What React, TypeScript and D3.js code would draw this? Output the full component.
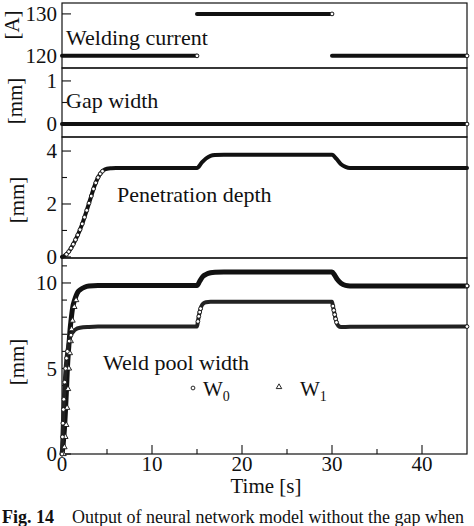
import React, { useRef, useEffect } from 'react';
import * as d3 from 'd3';

const FONT = '"Liberation Serif", "DejaVu Serif", serif';
const INK = '#111';

// Time axis
const X_DOMAIN = [0, 45];
const X_MAJOR = [0, 10, 20, 30, 40];
const X_MINOR = [5, 15, 25, 35];

// Panels (top to bottom)
const PANEL_TITLES = ['Welding current', 'Gap width', 'Penetration depth', 'Weld pool width'];
const PANEL_UNITS = ['[A]', '[mm]', '[mm]', '[mm]'];
const PANEL_DOMAINS = [[117.1, 132.6], [-0.3, 1.3], [-0.04, 4.53], [0, 11.46]];
const PANEL_MAJOR = [[120, 130], [0, 1], [0, 2, 4], [0, 5, 10]];
const PANEL_MINOR = [[], [0.5], [1, 3], [1, 2, 3, 4, 6, 7, 8, 9, 11]];

// Welding current [A], piecewise constant
const CURRENT_T = [[0, 15], [15, 30], [30, 45]];
const CURRENT_V = [[120, 120], [130, 130], [120, 120]];

// Gap width [mm]
const GAP_T = [0, 45];
const GAP_V = [0, 0];

// Penetration depth [mm]
const PEN_T = [0, 0.25, 0.5, 0.75, 1, 1.25, 1.5, 1.75, 2, 2.25, 2.5, 2.75, 3, 3.25, 3.5, 3.75, 4, 4.25, 4.5, 4.75, 5, 5.5, 6,
  15, 15.5, 16, 16.5, 17, 18, 30, 30.5, 31, 31.5, 32, 33, 45];
const PEN_V = [0, 0.04, 0.1, 0.2, 0.33, 0.48, 0.65, 0.83, 1.03, 1.25, 1.5, 1.76, 2.03, 2.3, 2.57, 2.8, 3.0, 3.14, 3.24, 3.3, 3.33, 3.35, 3.36,
  3.36, 3.55, 3.72, 3.82, 3.85, 3.86, 3.86, 3.7, 3.5, 3.4, 3.36, 3.36, 3.36];

// Weld pool width W0 [mm]
const W0_T = [0, 0.05, 0.1, 0.15, 0.2, 0.3, 0.4, 0.5, 0.6, 0.8, 1.0, 1.25, 1.5, 2, 3, 4,
  15, 15.1, 15.2, 15.3, 15.4, 15.5, 15.7, 16, 16.5, 17,
  30, 30.1, 30.2, 30.3, 30.4, 30.5, 30.7, 31, 32, 45];
const W0_V = [0, 1.0, 1.8, 2.6, 3.2, 4.2, 5.0, 5.6, 6.0, 6.6, 6.95, 7.15, 7.28, 7.38, 7.43, 7.45,
  7.45, 7.75, 8.05, 8.3, 8.5, 8.65, 8.8, 8.87, 8.9, 8.9,
  8.9, 8.65, 8.4, 8.15, 7.9, 7.7, 7.5, 7.42, 7.44, 7.45];

// Weld pool width W1 [mm]
const W1_T = [0, 0.1, 0.2, 0.3, 0.4, 0.5, 0.6, 0.7, 0.8, 0.9, 1.0, 1.2, 1.4, 1.6, 1.8, 2, 2.5, 3, 4,
  15, 15.3, 15.6, 16, 16.5, 17, 18, 30, 30.3, 30.6, 31, 31.5, 32, 45];
const W1_V = [0, 0.4, 1.0, 1.7, 2.7, 3.8, 5.0, 5.9, 6.6, 7.3, 7.8, 8.6, 9.0, 9.3, 9.5, 9.6, 9.75, 9.82, 9.85,
  9.85, 10.1, 10.35, 10.5, 10.6, 10.63, 10.64, 10.64, 10.45, 10.2, 9.98, 9.86, 9.83, 9.83];

// Layout
const W = 474, H = 526;
const PLOT_LEFT = 62, PLOT_RIGHT = 467;
const PANEL_EDGES = [3, 68, 137, 258, 454];
const UNIT_POS = [[12, 25], [15, 101], [17, 200], [17, 362]];
const TITLE_POS = [[66, 45], [66, 108], [117, 202], [103, 370]];

export default function App() {
  const svgRef = useRef<SVGSVGElement>(null);

  useEffect(() => {
    const svg = d3.select(svgRef.current);
    svg.selectAll('*').remove();

    const x = d3.scaleLinear().domain(X_DOMAIN).range([PLOT_LEFT, PLOT_RIGHT]);
    const ys = PANEL_DOMAINS.map((d, i) =>
      d3.scaleLinear().domain(d).range([PANEL_EDGES[i + 1], PANEL_EDGES[i]]));

    const txt = (sel: any, size: number) =>
      sel.attr('font-family', FONT).attr('font-size', size).attr('fill', INK);

    // frames, ticks, labels
    ys.forEach((y, i) => {
      const top = PANEL_EDGES[i], bottom = PANEL_EDGES[i + 1];
      svg.append('rect')
        .attr('x', PLOT_LEFT).attr('y', top)
        .attr('width', PLOT_RIGHT - PLOT_LEFT).attr('height', bottom - top)
        .attr('fill', 'none').attr('stroke', INK).attr('stroke-width', 1.2);

      PANEL_MAJOR[i].forEach(v => {
        svg.append('line')
          .attr('x1', PLOT_LEFT).attr('x2', PLOT_LEFT + 9)
          .attr('y1', y(v)).attr('y2', y(v))
          .attr('stroke', INK).attr('stroke-width', 1.1);
        txt(svg.append('text'), 21)
          .attr('x', 57).attr('y', y(v)).attr('dy', '0.35em')
          .attr('text-anchor', 'end').text(String(v));
      });
      PANEL_MINOR[i].forEach(v => {
        svg.append('line')
          .attr('x1', PLOT_LEFT).attr('x2', PLOT_LEFT + 5)
          .attr('y1', y(v)).attr('y2', y(v))
          .attr('stroke', INK).attr('stroke-width', 1.1);
      });

      const [ux, uy] = UNIT_POS[i];
      txt(svg.append('text'), 21)
        .attr('transform', `translate(${ux},${uy}) rotate(-90)`)
        .attr('text-anchor', 'middle').attr('dy', '0.35em')
        .text(PANEL_UNITS[i]);

      const [tx, ty] = TITLE_POS[i];
      txt(svg.append('text'), 22).attr('x', tx).attr('y', ty).text(PANEL_TITLES[i]);
    });

    // x axis on the bottom panel
    const axisY = PANEL_EDGES[4];
    X_MAJOR.forEach(t => {
      svg.append('line').attr('x1', x(t)).attr('x2', x(t))
        .attr('y1', axisY).attr('y2', axisY - 9)
        .attr('stroke', INK).attr('stroke-width', 1.1);
      txt(svg.append('text'), 21).attr('x', x(t)).attr('y', 471)
        .attr('text-anchor', 'middle').text(String(t));
    });
    X_MINOR.forEach(t => {
      svg.append('line').attr('x1', x(t)).attr('x2', x(t))
        .attr('y1', axisY).attr('y2', axisY - 5)
        .attr('stroke', INK).attr('stroke-width', 1.1);
    });
    txt(svg.append('text'), 21).attr('x', 266).attr('y', 493)
      .attr('text-anchor', 'middle').text('Time [s]');

    // series helpers
    const drawLine = (y: any, T: number[], V: number[], width: number, color = INK) => {
      const pts = T.map((t, k) => [t, V[k]] as [number, number]);
      const line = d3.line<[number, number]>()
        .x(d => x(d[0])).y(d => y(d[1]))
        .curve(d3.curveMonotoneX);
      svg.append('path').datum(pts)
        .attr('d', line).attr('fill', 'none')
        .attr('stroke', color).attr('stroke-width', width)
        .attr('stroke-linecap', 'round').attr('stroke-linejoin', 'round');
    };
    const circle = (cx: number, cy: number) => {
      svg.append('circle').attr('cx', cx).attr('cy', cy).attr('r', 1.9)
        .attr('fill', '#fff').attr('stroke', INK).attr('stroke-width', 0.9);
    };
    const triangle = (cx: number, cy: number) => {
      svg.append('path')
        .attr('d', d3.symbol(d3.symbolTriangle, 13)())
        .attr('transform', `translate(${cx},${cy})`)
        .attr('fill', '#fff').attr('stroke', INK).attr('stroke-width', 0.9);
    };
    // markers where the curve is steep enough that they separate
    const steep = (T: number[], V: number[], k: number, minSlope: number) => {
      const a = Math.max(0, k - 1), b = Math.min(T.length - 1, k + 1);
      return Math.abs((V[b] - V[a]) / (T[b] - T[a])) > minSlope;
    };

    // Welding current
    CURRENT_T.forEach((T, i) => {
      drawLine(ys[0], T, CURRENT_V[i], 4);
      circle(x(T[1]), ys[0](CURRENT_V[i][1]));
    });

    // Gap width
    drawLine(ys[1], GAP_T, GAP_V, 4);
    circle(x(GAP_T[GAP_T.length - 1]), ys[1](GAP_V[GAP_V.length - 1]));

    // Penetration depth
    drawLine(ys[2], PEN_T, PEN_V, 4);
    PEN_T.forEach((t, k) => {
      if (t < 6 && steep(PEN_T, PEN_V, k, 0.2)) circle(x(t), ys[2](PEN_V[k]));
    });

    // Weld pool width
    drawLine(ys[3], W1_T, W1_V, 5);
    drawLine(ys[3], W0_T, W0_V, 4, '#222');
    W1_T.forEach((t, k) => {
      if (t < 3 && steep(W1_T, W1_V, k, 1.5)) triangle(x(t) + 1.5, ys[3](W1_V[k]));
    });
    W0_T.forEach((t, k) => {
      if (steep(W0_T, W0_V, k, 1.2)) circle(x(t), ys[3](W0_V[k]));
    });
    circle(x(W0_T[W0_T.length - 1]), ys[3](W0_V[W0_V.length - 1]));
    circle(x(W1_T[W1_T.length - 1]), ys[3](W1_V[W1_V.length - 1]));

    // legend
    circle(193, 388);
    const l0 = txt(svg.append('text'), 21).attr('x', 203).attr('y', 396);
    l0.append('tspan').text('W');
    l0.append('tspan').attr('font-size', 14).attr('dy', 5).text('0');
    triangle(279, 387);
    const l1 = txt(svg.append('text'), 21).attr('x', 300).attr('y', 396);
    l1.append('tspan').text('W');
    l1.append('tspan').attr('font-size', 14).attr('dy', 5).text('1');

    // caption at the bottom edge, as in the source
    const cap = txt(svg.append('text'), 18).attr('x', 2).attr('y', 523);
    cap.append('tspan').attr('font-weight', 'bold').text('Fig. 14');
    cap.append('tspan').attr('x', 72).text('Output of neural network model without the gap when');
  }, []);

  return (
    <svg
      ref={svgRef}
      width={W}
      height={H}
      style={{ position: 'absolute', left: 0, top: 0, background: '#fff', display: 'block' }}
    />
  );
}
